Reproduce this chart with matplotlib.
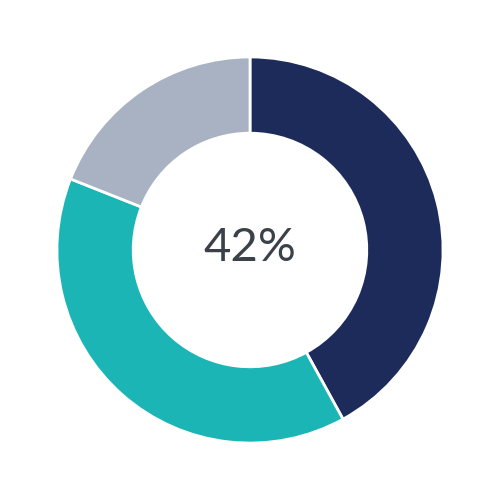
import matplotlib
matplotlib.use("Agg")
import matplotlib.pyplot as plt

labels = ["Navy", "Teal", "Gray"]
values = [42, 39, 19]
colors = ["#1c2b5a", "#1bb5b6", "#a8b2c2"]
center_label = "42%"

fig = plt.figure(figsize=(5, 5), dpi=100)
ax = fig.add_axes([0, 0, 1, 1])
ax.pie(values, colors=colors, startangle=90, counterclock=False,
       radius=1.0,
       wedgeprops=dict(width=0.395, edgecolor="white", linewidth=2.0))
ax.text(0, 0.01, center_label, ha="center", va="center",
        fontsize=34, color="#3b4149", family=["Lato", "DejaVu Sans"])
ax.set_xlim(-1.295, 1.295)
ax.set_ylim(-1.295, 1.295)
ax.set_aspect("equal")
ax.axis("off")
fig.savefig("out.png", dpi=100, facecolor="white")
